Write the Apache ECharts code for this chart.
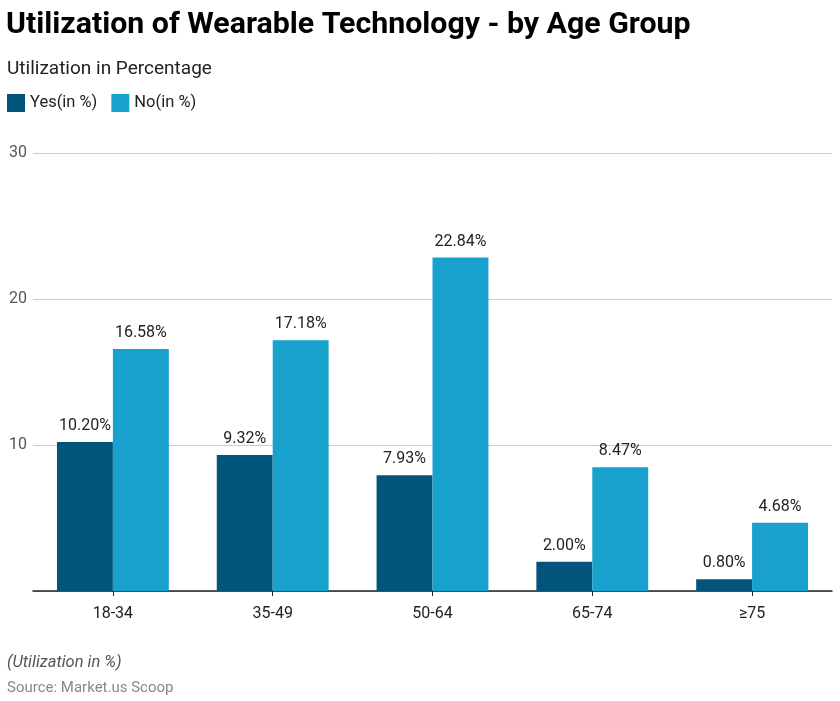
<!DOCTYPE html>
<html>
<head>
<meta charset="utf-8">
<script src="https://cdn.jsdelivr.net/npm/echarts@6/dist/echarts.min.js"></script>
<style>
  html, body { margin: 0; padding: 0; background: #fff; }
  #main { width: 840px; height: 701px; }
</style>
</head>
<body>
<div id="main"></div>
<script>
// data
var ageGroups = ['18-34', '35-49', '50-64', '65-74', '≥75'];
var yesValues = [10.20, 9.32, 7.93, 2.00, 0.80];
var noValues = [16.58, 17.18, 22.84, 8.47, 4.68];

var chart = echarts.init(document.getElementById('main'));

var barLabel = {
    show: true,
    position: 'top',
    distance: 8,
    color: '#222',
    fontFamily: 'Roboto',
    fontSize: 16,
    formatter: function (p) { return p.value.toFixed(2) + '%'; }
};

var option = {
    backgroundColor: '#fff',
    textStyle: { fontFamily: 'Roboto' },
    title: [
        {
            text: 'Utilization of Wearable Technology - by Age Group',
            left: 6, top: 10, padding: 0,
            textStyle: { fontFamily: 'Roboto', fontSize: 30.3, fontWeight: 'bold', color: '#000' }
        },
        {
            text: 'Utilization in Percentage',
            left: 7, top: 60, padding: 0,
            textStyle: { fontFamily: 'Roboto', fontSize: 19, fontWeight: 'normal', color: '#222' }
        },
        {
            text: '(Utilization in %)',
            left: 7, top: 654, padding: 0,
            textStyle: { fontFamily: 'Roboto', fontSize: 16.5, fontStyle: 'italic', fontWeight: 'normal', color: '#555' }
        },
        {
            text: 'Source: Market.us Scoop',
            left: 7, top: 681, padding: 0,
            textStyle: { fontFamily: 'Roboto', fontSize: 15, fontWeight: 'normal', color: '#888' }
        }
    ],
    color: ['#03547b', '#18a1cd'],
    legend: {
        left: 7, top: 94, padding: 0,
        itemWidth: 18, itemHeight: 18, itemGap: 14,
        icon: 'rect',
        textStyle: { fontFamily: 'Roboto', fontSize: 16.5, color: '#222' },
        data: ['Yes(in %)', 'No(in %)']
    },
    grid: { left: 33, right: 8, top: 153, bottom: 110, containLabel: false },
    xAxis: {
        type: 'category',
        data: ageGroups,
        axisLine: { lineStyle: { color: '#222', width: 1.5 } },
        axisTick: { show: true, alignWithLabel: true, length: 5, lineStyle: { color: '#222' } },
        axisLabel: { color: '#222', fontSize: 16, margin: 15, fontFamily: 'Roboto' }
    },
    yAxis: {
        type: 'value',
        min: 0, max: 30, interval: 10,
        axisLine: { show: false },
        axisTick: { show: false },
        splitLine: { lineStyle: { color: '#cccccc' } },
        axisLabel: {
            color: '#555', fontSize: 16, margin: 6, fontFamily: 'Roboto',
            formatter: function (v) { return v === 0 ? '' : v; }
        }
    },
    series: [
        {
            name: 'Yes(in %)',
            type: 'bar',
            data: yesValues,
            barGap: '0%',
            barCategoryGap: '30%',
            label: barLabel
        },
        {
            name: 'No(in %)',
            type: 'bar',
            data: noValues,
            barGap: '0%',
            barCategoryGap: '30%',
            label: barLabel
        }
    ]
};

chart.setOption(option);
</script>
</body>
</html>
